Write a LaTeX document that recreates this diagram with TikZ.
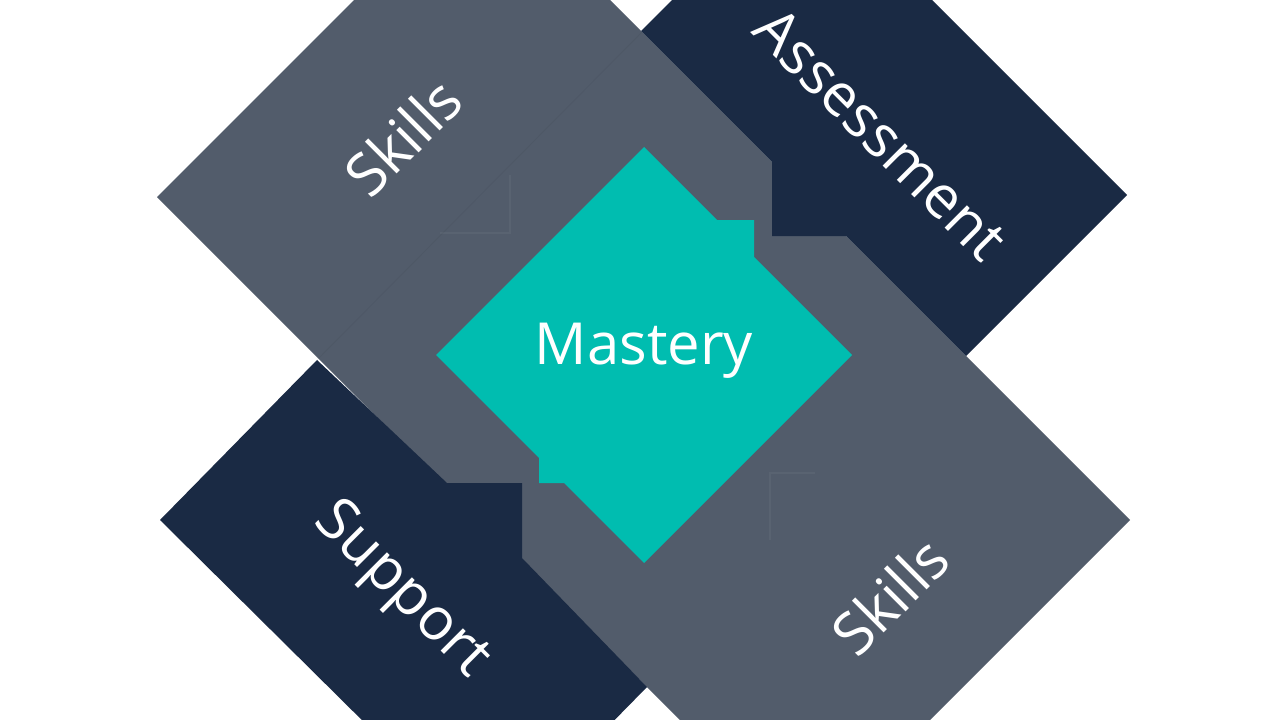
\documentclass[tikz,border=0pt]{standalone}
\usepackage{fontspec}
\setmainfont{Open Sans}
\definecolor{slate}{RGB}{82,92,107}
\definecolor{navy}{RGB}{26,42,68}
\definecolor{tealc}{RGB}{0,189,176}
\begin{document}
\begin{tikzpicture}[x=1pt,y=1pt,
  lbl/.style={text=white,inner sep=0pt,font=\fontsize{59}{62}\selectfont},
  mlbl/.style={text=white,inner sep=0pt,font=\fontsize{58}{62}\selectfont},
  ghostdark/.style={draw=black,opacity=0.04,line width=1pt},
  ghostlight/.style={draw=white,opacity=0.045,line width=1.5pt}]
\useasboundingbox (0,0) rectangle (1280,-720);
\fill[white] (0,0) rectangle (1280,-720);
\begin{scope}
\clip (0,0) rectangle (1280,-720);
% gray band (both Skills pieces and the inner square)
\fill[slate] (157,-197) -- (482,128) -- (1130,-520) -- (805,-845) -- cycle;
% faint seams inside the gray
\draw[ghostdark] (642,-32) -- (317,-360);
\draw[ghostlight] (440,-233) -- (510,-233) -- (510,-175);
\draw[ghostlight] (815,-473) -- (770,-473) -- (770,-540);
% Assessment piece
\fill[navy] (641,-31) -- (802,130) -- (1127,-195) -- (966,-356) -- (846,-236) -- (772,-236) -- (772,-162) -- cycle;
% Support piece
\fill[navy] (317,-360) -- (447,-483) -- (522,-483) -- (522,-558) -- (647,-687) -- (490,-847) -- (160,-520) -- cycle;
% Mastery diamond
\fill[tealc] (644,-147) -- (717,-220) -- (754,-220) -- (754,-257) -- (852,-355) -- (644,-563) -- (564,-483) -- (539,-483) -- (539,-458) -- (436,-355) -- cycle;
\end{scope}
\node[lbl,rotate=45] (skillsA) at (403,-137) {Skills};
\node[lbl,rotate=-45] (assess) at (881,-134) {Assessment};
\node[lbl,rotate=-45] (support) at (401,-591) {Support};
\node[lbl,rotate=45] (skillsB) at (890,-596) {Skills};
\node[mlbl] (mastery) at (644,-351) {Mastery};
\end{tikzpicture}
\end{document}
